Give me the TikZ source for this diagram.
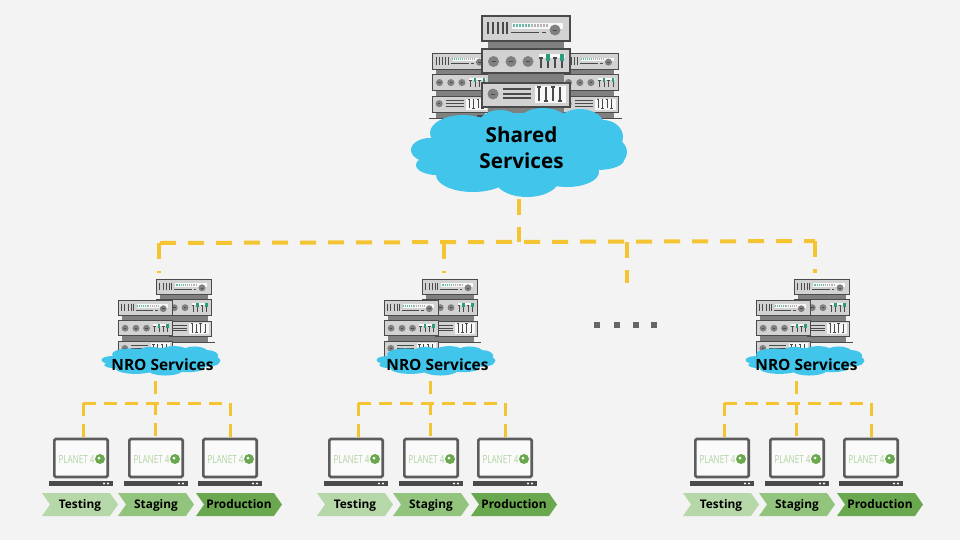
\documentclass[tikz,border=0pt]{standalone}
\usepackage{fontspec}
\setmainfont{Open Sans}
\usetikzlibrary{arrows.meta,calc,positioning,shapes.symbols}

\definecolor{pageGray}{HTML}{F3F3F3}
\definecolor{srvEdge}{HTML}{4A4A4A}
\definecolor{srvBody}{HTML}{D2D2D2}
\definecolor{srvPost}{HTML}{808080}
\definecolor{srvTeal}{HTML}{2A9D7F}
\definecolor{dotGray}{HTML}{666666}
\definecolor{skyBlue}{HTML}{41C5EA}
\definecolor{linkGold}{HTML}{F5C432}
\definecolor{envLight}{HTML}{B6D7A8}
\definecolor{envMid}{HTML}{93C47D}
\definecolor{envDark}{HTML}{6AA84F}

\begin{document}
\begin{tikzpicture}[x=.75pt,y=-.75pt]
  % --- Unified styles ---
    \tikzset{
      unit/.style     = {draw=srvEdge,fill=srvBody},
      post/.style     = {fill=srvPost},
      bar/.style      = {draw=srvEdge},
      knob/.style     = {fill=srvPost},
      panel/.style    = {fill=white!85!srvBody},
      linkTop/.style  = {draw=linkGold,line width=3pt,dash pattern=on 12pt off 9pt},
      linkLow/.style  = {draw=linkGold,line width=2.25pt,dash pattern=on 9.75pt off 6pt},
      skyLab/.style   = {font=\bfseries\fontsize{15.5}{19.5}\selectfont,align=center,text=black,inner sep=0pt},
      nroLab/.style   = {font=\bfseries\fontsize{11.6}{13}\selectfont,text=black,inner sep=0pt},
      screen/.style   = {draw=srvEdge!90!white,fill=pageGray!40!white,line width=2pt,rounded corners=1pt,
                         minimum width=40pt,minimum height=28.5pt,inner sep=0pt},
      brand/.style    = {font=\fontsize{8.4}{8.4}\selectfont,text=envLight!85!envMid,inner sep=0pt,xscale=.72,transform shape},
      env/.style      = {signal,signal to=east,signal from=west,signal pointer angle=110,
                         minimum height=17.25pt,inner sep=0pt,outer sep=0pt,text height=7.5pt,text depth=1pt,
                         font=\bfseries\fontsize{8.9}{10}\selectfont,text=black},
      srvStack/.pic   = {
        % --- posts behind the three units ---
        \fill[post] (6,25) rectangle (82,100);
        \draw[bar] (-5,100) -- (94,100);
        % --- top unit ---
        \path[unit] (0,0) rectangle (88,25);
        \foreach \vx in {6,11,16,21,25} \draw[bar] (\vx,6) -- (\vx,18);
        \fill[panel] (30,7) rectangle (81,12.5);
        \foreach \vx in {31,34,...,46} \fill[srvTeal!70] (\vx,7.5) rectangle +(1.6,3.5);
        \foreach \vx in {49,52,...,64} \fill[srvPost!60] (\vx,7.5) rectangle +(1.6,3.5);
        \draw[bar] (29,16.7) -- (57,16.7) (60,16.7) -- (64,16.7);
        \fill[knob] (73,14) circle[radius=5.5];
        \fill[srvEdge] (71,13.5) rectangle (75,14.5);
        % --- middle unit ---
        \path[unit] (0,33) rectangle (88,57);
        \fill[panel] (57,38) rectangle (83,42);
        \foreach \vx in {11.5,29,46} {
          \fill[knob] (\vx,45.5) circle[radius=5.5];
          \fill[srvEdge] (\vx-2,45) rectangle (\vx+2,46);
        }
        \foreach \vx in {59,66,73,80} {
          \draw[bar] (\vx,42) -- (\vx,52);
          \draw[bar] (\vx-2,42) -- (\vx+2,42);
        }
        \foreach \vx in {66,80} \fill[srvTeal] (\vx-2,38) rectangle (\vx+2,45);
        % --- bottom unit ---
        \path[unit] (0,67) rectangle (88,91);
        \fill[panel] (53,70) rectangle (84,87);
        \fill[knob] (11,78) circle[radius=5.5];
        \fill[srvEdge] (9,77.5) rectangle (13,78.5);
        \foreach \vy in {73,78,82} \draw[bar] (21,\vy) -- (49,\vy);
        \foreach \vx/\tp in {57/71,64/85,71/71,78/85} {
          \draw[bar] (\vx,71) -- (\vx,85);
          \draw[bar] (\vx-2,\tp) -- (\vx+2,\tp);
        }
      },
      skyCloud/.pic   = {
        \foreach \ex/\ey/\erx/\ery in {
            3/-3/83/37, -57/-20/33/18, -20/-26/23/17, 23/-28/27/17, 60/-26/25/18,
            83/-16/20/17, 83/-1/24/17, -90/-3/19/12, -83/12/21/10, -47/22/37/17,
            7/25/33/19, 47/19/32/15, 77/7/27/10}
          \fill[skyBlue] (\ex,\ey) ellipse[x radius=\erx,y radius=\ery];
      }
    }

    \fill[pageGray] (0,0) rectangle (960,540);
    \useasboundingbox (0,0) rectangle (960,540);

    % --- Shared stack and cloud ---
    \pic[scale=.65,line width=.6pt] at (432,53) {srvStack};
    \pic[scale=.65,line width=.6pt] at (561,53) {srvStack};
    \pic[line width=1.1pt] at (482,16) {srvStack};
    \pic at (520,153) {skyCloud};
    \node[skyLab,minimum width=162pt,minimum height=76.5pt] (shared) at (521.5,148) {Shared\\Services};

    % --- Top bus ---
    \coordinate (busMid) at (519.3,242);
    \coordinate (busLeft) at (160,243);
    \coordinate (busRight) at (815,241);
    \coordinate (dotsTop) at (627,283);
    \draw[linkTop] (shared.south -| busMid) -- (busMid);
    \draw[linkTop] (busLeft) -- (busRight);
    \draw[linkTop] (dotsTop |- busMid) -- (dotsTop);

    % --- The dots between the groups ---
    \foreach \dx in {597,617,636,654}
      \fill[dotGray] (\dx-3,322) rectangle (\dx+3,328);

    % --- One group per NRO: stack, cloud, laptops, stages ---
    \foreach \grp/\sx/\cx/\lx/\upx/\upy in {a/0/0/0/159/243, b/266/275/275/444/242.5, c/638/644/641/815/241} {
      \coordinate (top\grp) at (\upx,273);
      \draw[linkTop] (\upx,\upy) -- (top\grp);

      \pic[scale=.63,line width=.6pt] at (156+\sx,279) {srvStack};
      \pic[scale=.62,line width=.6pt] at (118+\sx,300) {srvStack};
      \pic[xscale=.55,yscale=.33] at (161.5+\cx,361) {skyCloud};
      \node[nroLab,minimum width=89pt,minimum height=24pt] (nro\grp) at (162.5+\cx,365) {NRO Services};

      % --- Laptops ---
      \node[screen] (lap\grp1) at (81+\lx,458) {};
      \node[screen] (lap\grp2) at (156+\lx,458) {};
      \node[screen] (lap\grp3) at (230+\lx,458) {};
      \foreach \i in {1,2,3} {
        \node[brand] at ($(lap\grp\i.center)+(-4.5,1)$) {PLANET 4};
        \fill[envDark] ($(lap\grp\i.center)+(19,1)$) circle[radius=5];
        \fill[white] ($(lap\grp\i.center)+(18,0)$) circle[radius=1.5];
        \fill[srvEdge] ($(lap\grp\i.center)+(-32,23)$) rectangle ($(lap\grp\i.center)+(32,28)$);
        \fill[white] ($(lap\grp\i.center)+(23,25.5)$) circle[radius=1.2];
        \fill[white] ($(lap\grp\i.center)+(27,25.5)$) circle[radius=1.2];
      }

      % --- Connectors down to the laptops ---
      \coordinate (hub\grp) at (155+\lx,402);
      \coordinate (hubL\grp) at (83+\lx,403);
      \coordinate (hubR\grp) at (230+\lx,403);
      \draw[linkLow] (nro\grp.south -| hub\grp) -- (hub\grp);
      \draw[linkLow] (hubL\grp) -- (hubR\grp);
      \draw[linkLow] (hubL\grp) -- (lap\grp1.north -| hubL\grp);
      \draw[linkLow] (hub\grp) -- (lap\grp2.north -| hub\grp);
      \draw[linkLow] (hubR\grp) -- (lap\grp3.north -| hubR\grp);

      % --- Stages ---
      \node[env,fill=envLight,minimum width=57pt] (test\grp) at (80+\lx,504.5) {Testing};
      \node[env,fill=envMid,minimum width=57pt] (stag\grp) at (156+\lx,504.5) {Staging};
      \node[env,fill=envDark,minimum width=64.5pt] (prod\grp) at (239+\lx,504.5) {Production};
    }

\end{tikzpicture}
\end{document}
